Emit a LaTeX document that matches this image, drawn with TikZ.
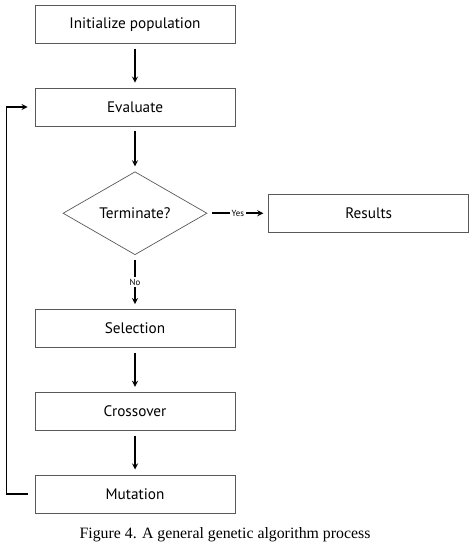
\documentclass[tikz,border=0pt]{standalone}
\usepackage{fontspec}
\usepackage{tikz}
\usetikzlibrary{shapes,arrows,positioning,calc}
\newfontfamily\flowfont{PT Sans}
\newfontfamily\capfont{Liberation Serif}

\begin{document}
\begin{tikzpicture}[
    node distance=1.32cm and 1.83cm,
    box/.style={rectangle, draw=black!65, line width=0.6pt, minimum width=6cm, minimum height=1.14cm, align=center, font=\flowfont\fontsize{13}{15}\selectfont},
    decision/.style={diamond, draw=black!65, line width=0.6pt, aspect=1.73, inner sep=0pt, minimum width=4.32cm, minimum height=2.49cm, align=center, font=\flowfont\fontsize{13}{15}\selectfont},
    arrow/.style={->, >=stealth, line width=1.3pt, shorten >=0.15cm, shorten <=0.15cm},
    tag/.style={fill=white, inner sep=1.5pt, font=\flowfont\fontsize{7.5}{9}\selectfont}
]
    \useasboundingbox (0,0) rectangle (14.22,-16.32);

    \node[box] (init) at (4.05,-0.73) {Initialize population};
    \node[box, below=of init] (eval) {Evaluate};
    \node[decision, below=1.35cm of eval] (term) {Terminate?};
    \node[box, right=of term] (res) {Results};
    \node[box, below=1.62cm of term] (sel) {Selection};
    \node[box, below=of sel] (cross) {Crossover};
    \node[box, below=of cross] (mut) {Mutation};

    \draw[arrow] (init) -- (eval);
    \draw[arrow] (eval) -- (term);
    \draw[arrow] (term) -- node[tag]{Yes} (res);
    \draw[arrow] (term) -- node[tag]{No} (sel);
    \draw[arrow] (sel) -- (cross);
    \draw[arrow] (cross) -- (mut);
    \draw[arrow, shorten <=0.21cm, shorten >=0.21cm] (mut.west) -- ++(-0.84,0) |- (eval.west);

    \node[font=\capfont\fontsize{13.5}{16}\selectfont, anchor=base] (cap) at (6.75,-16.14) {Figure 4. A general genetic algorithm process};
\end{tikzpicture}
\end{document}
